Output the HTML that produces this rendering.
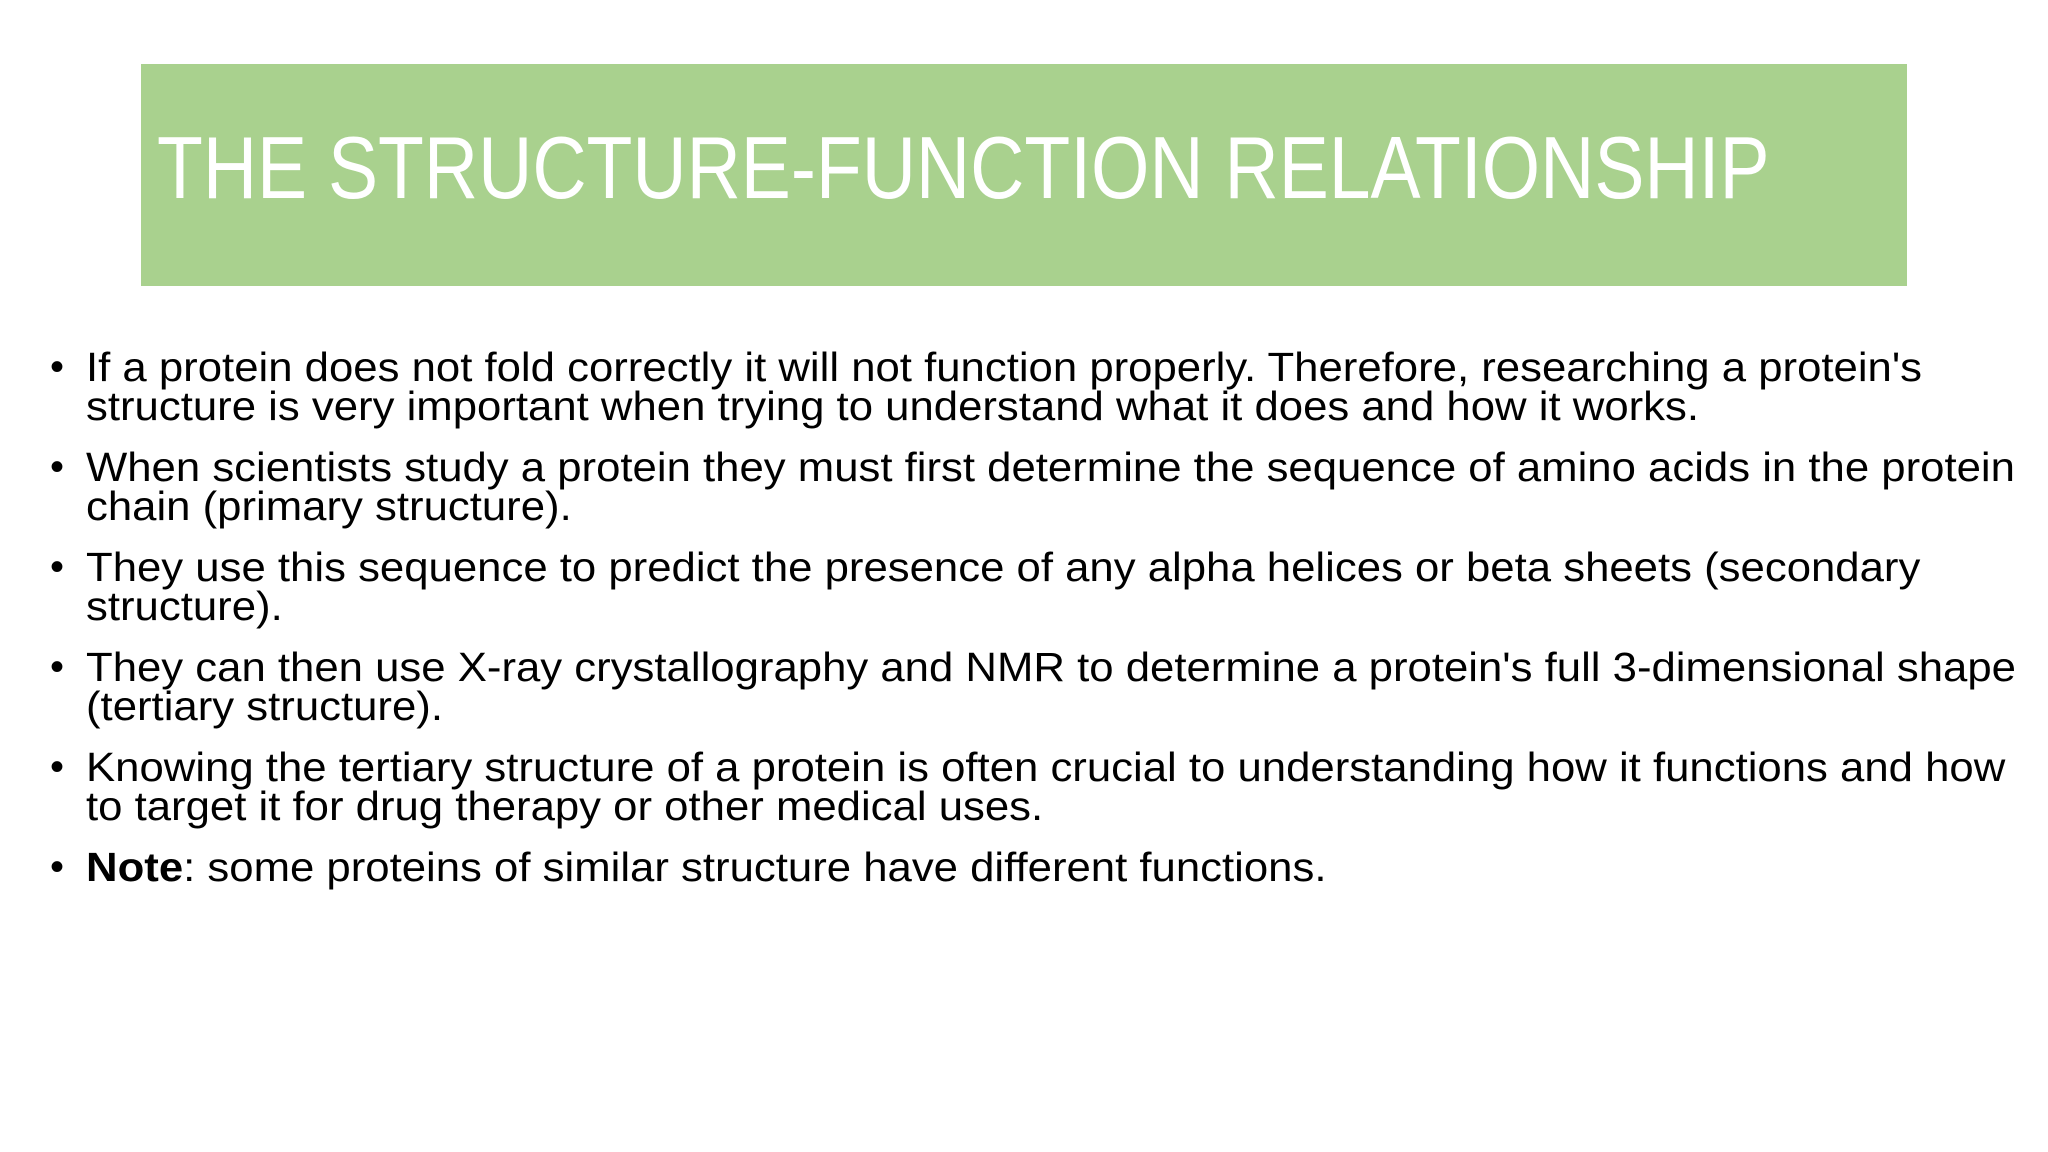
<!DOCTYPE html>
<html><head><meta charset="utf-8"><style>
html,body{margin:0;padding:0;background:#fff;}
body{width:2048px;height:1152px;position:relative;overflow:hidden;font-family:"Liberation Sans",sans-serif;}
.box{position:absolute;left:141px;top:64px;width:1766px;height:222px;background:#a9d18e;}
.title{position:absolute;left:157px;top:118px;font-size:88px;line-height:100px;color:#fff;white-space:nowrap;transform:scaleX(0.853);transform-origin:left top;font-weight:normal;}
.l{position:absolute;left:86px;font-size:41px;line-height:40px;color:#000;white-space:nowrap;transform:scaleX(1.066);transform-origin:left top;}
.b{position:absolute;left:50px;font-size:40px;line-height:40px;}
</style></head><body>
<div class="box"></div>
<div class="title">THE STRUCTURE-FUNCTION RELATIONSHIP</div>

<div class="b" style="top:347px">•</div>
<div class="l" style="top:347px">If a protein does not fold correctly it will not function properly. Therefore, researching a protein's</div>
<div class="l" style="top:386px">structure is very important when trying to understand what it does and how it works.</div>

<div class="b" style="top:447px">•</div>
<div class="l" style="top:447px">When scientists study a protein they must first determine the sequence of amino acids in the protein</div>
<div class="l" style="top:486px">chain (primary structure).</div>

<div class="b" style="top:547px">•</div>
<div class="l" style="top:547px">They use this sequence to predict the presence of any alpha helices or beta sheets (secondary</div>
<div class="l" style="top:586px">structure).</div>

<div class="b" style="top:647px">•</div>
<div class="l" style="top:647px">They can then use X-ray crystallography and NMR to determine a protein's full 3-dimensional shape</div>
<div class="l" style="top:686px">(tertiary structure).</div>

<div class="b" style="top:747px">•</div>
<div class="l" style="top:747px">Knowing the tertiary structure of a protein is often crucial to understanding how it functions and how</div>
<div class="l" style="top:786px">to target it for drug therapy or other medical uses.</div>

<div class="b" style="top:847px">•</div>
<div class="l" style="top:847px"><b>Note</b>: some proteins of similar structure have different functions.</div>
</body></html>
